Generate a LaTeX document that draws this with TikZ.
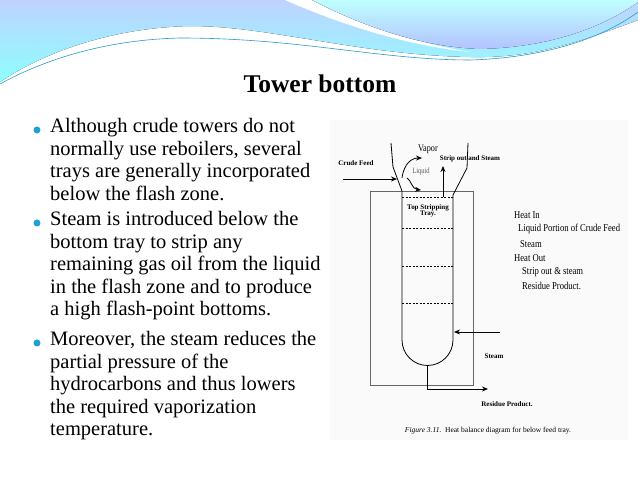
\documentclass[tikz,border=0pt]{standalone}
\usepackage{fontspec}
\setmainfont{Liberation Serif}
\usetikzlibrary{arrows.meta}
\newcommand{\hsq}[1]{\scalebox{0.82}[1]{#1}}
\begin{document}
\begin{tikzpicture}[x=1pt,y=-1pt,
  body/.style={anchor=north west,align=left,font=\fontsize{20.5}{22.6}\selectfont,inner sep=0},
  lab/.style={font=\fontsize{7}{8}\selectfont\bfseries,inner sep=0},
  heat/.style={anchor=west,font=\fontsize{10.5}{11}\selectfont,inner sep=0},
  arr/.style={-{Stealth[length=6pt,width=5pt]},line width=0.8pt},
  tray/.style={dashed,dash pattern=on 2pt off 1.5pt,line width=0.6pt},
  wall/.style={line width=0.8pt}]
\useasboundingbox (0,0) rectangle (638,478);
\fill[white] (0,0) rectangle (638,478);
% header waves
\fill[top color=cyan!30!blue!25,bottom color=cyan!45!white] (0,0) -- (638,0) -- (638,20) .. controls (560,50) and (520,58) .. (470,57) .. controls (350,55) and (250,20) .. (170,27) .. controls (100,32) and (40,55) .. (0,82) -- cycle;
\fill[white] (285,0) .. controls (330,20) and (400,45) .. (470,52) .. controls (400,40) and (345,18) .. (312,0) -- cycle;
\fill[top color=cyan!25!white,bottom color=cyan!20!blue!30] (312,0) .. controls (360,25) and (420,47) .. (480,49) .. controls (560,47) and (610,22) .. (638,2) -- (638,0) -- cycle;
\fill[white] (0,84) .. controls (40,60) and (100,36) .. (170,31) .. controls (250,26) and (350,57) .. (470,60) .. controls (540,60) and (600,40) .. (638,26) -- (638,478) -- (0,478) -- cycle;
\draw[cyan!60!teal,line width=0.6pt] (0,84) .. controls (40,62) and (100,40) .. (180,38) .. controls (300,38) and (380,60) .. (470,60) .. controls (540,58) and (600,40) .. (638,12);
% title
\node[font=\fontsize{25.5}{28}\selectfont\bfseries,inner sep=0] (title) at (320,84) {Tower bottom};
% bullets
\foreach \y in {130,223,343}{\fill[cyan!70!teal] (37,\y) circle (3.5);}
\node[body] (t1) at (50,118) {Although crude towers do not\\normally use reboilers, several\\trays are generally incorporated\\below the flash zone.};
\node[body] (t2) at (50,211) {Steam is introduced below the\\bottom tray to strip any\\remaining gas oil from the liquid\\in the flash zone and to produce\\a high flash-point bottoms.};
\node[body] (t3) at (50,331) {Moreover, the steam reduces the\\partial pressure of the\\hydrocarbons and thus lowers\\the required vaporization\\temperature.};
% figure
\fill[gray!4] (330,120) rectangle (628,440);
\draw[line width=0.4pt,gray!80!black] (370,191) rectangle (473,385);
\draw[wall] (391,143) -- (393,167) -- (402,191) -- (402,340) arc[start angle=180,end angle=0,radius=25.5] -- (453,195) -- (467,168) -- (468,143);
\coordinate (bot) at (427.5,365.5);
\draw[tray] (402,197) -- (453,197);
\draw[tray] (402,228) -- (453,228);
\draw[tray] (402,266) -- (453,266);
\draw[tray] (402,303) -- (453,303);
\node[lab] (tst) at (428,211) {\begin{tabular}{@{}c@{}}Top Stripping\\[-2pt]Tray.\end{tabular}};
\coordinate (cf) at (343,179);
\coordinate (cfe) at (397,179);
\draw[arr] (cf) -- (cfe);
\node[lab] (cfl) at (356,163) {Crude Feed};
\coordinate (v0) at (402,178);
\coordinate (v1) at (422,158);
\draw[arr] (v0) .. controls (404,163) and (412,158) .. (v1);
\node[font=\fontsize{10}{11}\selectfont,inner sep=0] (vap) at (428,149) {\hsq{Vapor}};
\node[font=\fontsize{8}{9}\selectfont,text=gray!70!black,inner sep=0] (liq) at (421,172) {\hsq{Liquid}};
\coordinate (l0) at (407,178);
\coordinate (l1) at (421,190);
\draw[arr] (l0) .. controls (411,180) and (412,189) .. (l1);
\coordinate (s0) at (443,197);
\coordinate (s1) at (443,166);
\draw[arr] (s0) -- (s1);
\node[lab] (sol) at (470,159) {Strip out and Steam};
\coordinate (st0) at (500,332);
\coordinate (st1) at (454,332);
\draw[arr] (st0) -- (st1);
\node[lab] (stl) at (494,356) {Steam};
\coordinate (r1) at (427.5,389);
\coordinate (r2) at (488,389);
\draw[arr] (bot) -- (r1) -- (r2);
\node[lab] (rl) at (507,404) {Residue Product.};
\node[heat] (h1) at (514,215) {\hsq{Heat In}};
\node[heat] (h2) at (518,229) {\hsq{Liquid Portion of Crude Feed}};
\node[heat] (h3) at (520,244) {\hsq{Steam}};
\node[heat] (h4) at (514,258) {\hsq{Heat Out}};
\node[heat] (h5) at (522,272) {\hsq{Strip out \& steam}};
\node[heat] (h6) at (522,286) {\hsq{Residue Product.}};
\node[font=\fontsize{7.5}{8}\selectfont,inner sep=0] (cap) at (488,431) {\textit{Figure 3.11.}\ \ Heat balance diagram for below feed tray.};
\end{tikzpicture}
\end{document}
